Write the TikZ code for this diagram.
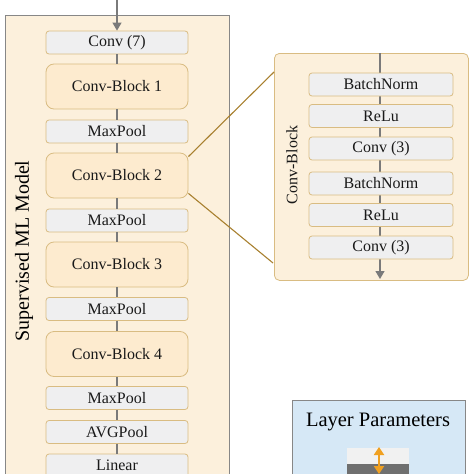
\documentclass[tikz,border=0pt]{standalone}
\usepackage{fontspec}
\setmainfont{Liberation Serif}
\usetikzlibrary{arrows.meta,calc}
\definecolor{outerfill}{HTML}{FCF0DC}
\definecolor{blockfill}{HTML}{FDEBCF}
\definecolor{grayfill}{HTML}{EFEFF0}
\definecolor{tanline}{HTML}{D9BC82}
\definecolor{linkline}{HTML}{A8802F}
\definecolor{conn}{HTML}{7A7A7A}
\definecolor{bluefill}{HTML}{D6E8F6}
\definecolor{darkgray}{HTML}{6F6F6F}
\definecolor{lightgray}{HTML}{F1F1F1}
\definecolor{orangearrow}{HTML}{F0A020}
\begin{document}
\begin{tikzpicture}[x=1pt,y=-1pt,
  txt/.style={font=\fontsize{16}{19}\selectfont,text=black!90},
  layerbox/.style={txt,draw=tanline,line width=0.8pt,fill=grayfill,rounded corners=3pt,minimum height=23pt,inner sep=0pt},
  mainlayer/.style={layerbox,minimum width=142pt},
  sublayer/.style={layerbox,minimum width=144pt},
  blockbox/.style={txt,draw=tanline,line width=0.8pt,fill=blockfill,rounded corners=8pt,minimum width=142pt,minimum height=45pt,inner sep=0pt},
  flow/.style={draw=conn,line width=1.2pt},
  link/.style={draw=linkline,line width=1.1pt},
  tip/.style={-{Triangle[width=9pt,length=8pt]}}
]
\useasboundingbox (0,0) rectangle (474,474);
% outer model box
\node[draw=conn!90,line width=1.2pt,fill=outerfill,minimum width=224pt,minimum height=480pt,inner sep=0pt,anchor=north west] (model) at (5,15) {};
\node[rotate=90,font=\fontsize{20}{23}\selectfont] (modellabel) at (24,251) {Supervised ML Model};
% input arrow
\coordinate (inp) at (117,-2);
% main layers
\node[mainlayer] (c7) at (117,42.5) {Conv (7)};
\node[blockbox] (cb1) at (117,86.5) {Conv-Block 1};
\node[mainlayer] (mp1) at (117,131.5) {MaxPool};
\node[blockbox] (cb2) at (117,175.5) {Conv-Block 2};
\node[mainlayer] (mp2) at (117,220.5) {MaxPool};
\node[blockbox] (cb3) at (117,264.5) {Conv-Block 3};
\node[mainlayer] (mp3) at (117,309) {MaxPool};
\node[blockbox] (cb4) at (117,354) {Conv-Block 4};
\node[mainlayer] (mp4) at (117,398) {MaxPool};
\node[mainlayer] (avg) at (117,432) {AVGPool};
\node[mainlayer] (lin) at (117,465.5) {Linear};
\draw[flow,tip] (inp) -- (c7.north);
\foreach \a/\b in {c7/cb1,cb1/mp1,mp1/cb2,cb2/mp2,mp2/cb3,cb3/mp3,mp3/cb4,cb4/mp4,mp4/avg,avg/lin}
  \draw[flow] (\a.south) -- (\b.north);
% conv-block detail
\node[draw=tanline,line width=0.8pt,fill=outerfill,rounded corners=5pt,minimum width=194pt,minimum height=227pt,inner sep=0pt,anchor=north west] (cbbox) at (274,53) {};
\node[rotate=90,txt] (cblabel) at (292,165) {Conv-Block};
\coordinate (cbtop) at (380,53);
\coordinate (cbbot) at (380,279);
\draw[flow,tip] (cbtop) -- (cbbot);
\node[sublayer] (bn1) at (381,84.5) {BatchNorm};
\node[sublayer] (re1) at (381,116) {ReLu};
\node[sublayer] (cv1) at (381,148.5) {Conv (3)};
\node[sublayer] (bn2) at (381,183.5) {BatchNorm};
\node[sublayer] (re2) at (381,215) {ReLu};
\node[sublayer] (cv2) at (381,247.5) {Conv (3)};
% zoom links
\draw[link] ([yshift=-4pt]cb2.north east) -- ($(cbbox.north west)+(0,19)$);
\draw[link] ([yshift=5pt]cb2.south east) -- ($(cbbox.north west)+(-1,210)$);
% layer parameters legend
\node[draw=conn!90,line width=1.2pt,fill=bluefill,minimum width=173pt,minimum height=100pt,inner sep=0pt,anchor=north west] (legend) at (292,400) {};
\node[font=\fontsize{20.5}{24}\selectfont] (legendtitle) at (378,422) {Layer Parameters};
\fill[lightgray] (347,448) rectangle (409,464);
\fill[darkgray] (347,464) rectangle (409,500);
\coordinate (pa) at (379,447);
\coordinate (pb) at (379,474);
\draw[draw=orangearrow,line width=1.8pt,{Triangle[width=10pt,length=8pt]}-{Triangle[width=10pt,length=8pt]}] (pa) -- (pb);
\end{tikzpicture}
\end{document}
